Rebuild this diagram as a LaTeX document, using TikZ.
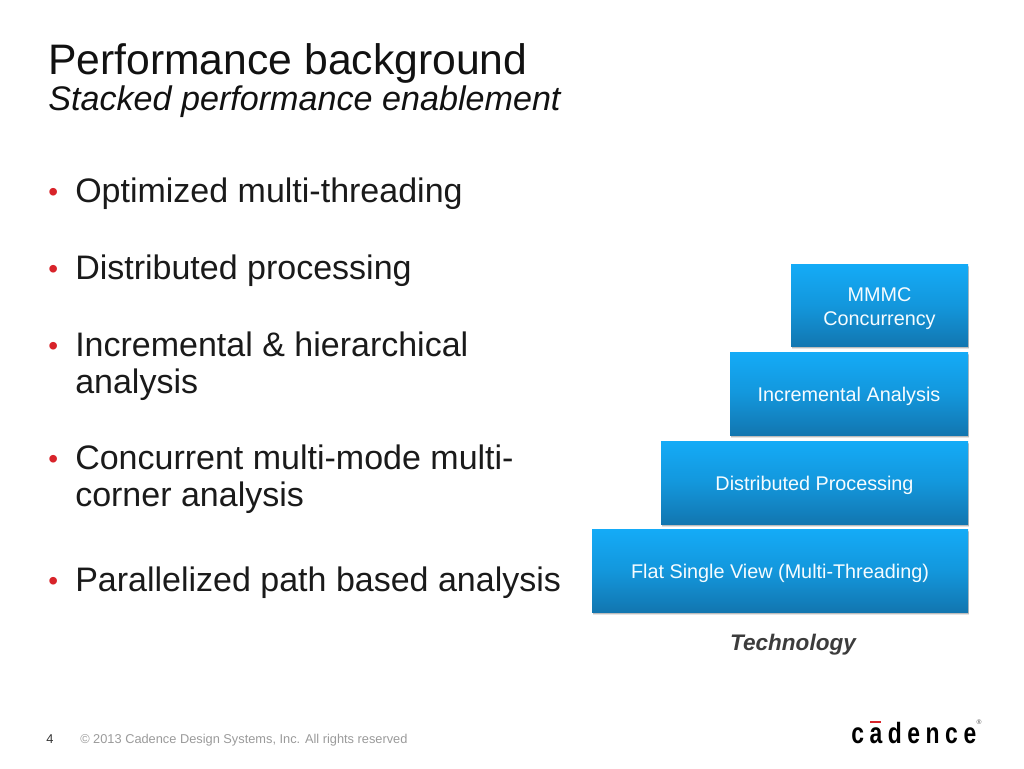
\documentclass[tikz,border=0pt]{standalone}
\usepackage{fontspec}
\setmainfont{Liberation Sans}
\newfontfamily\logofont[LetterSpace=19,FakeStretch=0.78]{Liberation Sans}
\usetikzlibrary{shadows}
\definecolor{titlecol}{HTML}{111111}
\definecolor{bodycol}{HTML}{1A1A1A}
\definecolor{bulletred}{HTML}{D8232A}
\definecolor{boxtop}{HTML}{14ABF7}
\definecolor{boxbot}{HTML}{1276B0}
\definecolor{footgray}{HTML}{9A9A9A}
\tikzset{
  x=0.75pt,y=-0.75pt,
  softshadow/.style={
    general shadow={shadow xshift=0.3pt,shadow yshift=-0.7pt,opacity=.22,fill=black},
    general shadow={shadow xshift=0.6pt,shadow yshift=-1.4pt,opacity=.18,fill=black},
    general shadow={shadow xshift=0.9pt,shadow yshift=-2.2pt,opacity=.10,fill=black}},
  stackbox/.style={softshadow,anchor=north east,inner sep=0pt,outer sep=0pt,top color=boxtop,bottom color=boxbot,
    middle color=boxtop!62!boxbot,text=white!96!boxtop,align=center,text height=15.7pt,text depth=3pt,
    font=\fontsize{14.85}{18}\selectfont},
  bulletmark/.style={anchor=base west,inner sep=0pt,text=bulletred,font=\fontsize{21}{21}\selectfont},
  bullettext/.style={anchor=base west,inner sep=0pt,text=bodycol,align=left,font=\fontsize{25.5}{28}\selectfont},
  titletext/.style={anchor=base west,inner sep=0pt,text=titlecol},
  foot/.style={anchor=base west,inner sep=0pt,text=footgray,font=\fontsize{9.6}{11}\selectfont},
}
\begin{document}
\begin{tikzpicture}
\useasboundingbox (0,0) rectangle (1024,768);
\node[titletext,font=\fontsize{32}{36}\selectfont] (title) at (48,74) {Performance background};
\node[titletext,font=\itshape\fontsize{25.6}{28}\selectfont] (subtitle) at (48,110.5) {Stacked performance enablement};

\foreach \n/\y in {a/201.5,b/278.5,c/355.5,d/468.5,e/590.5}{
  \node[bulletmark] (b\n) at (48,\y) {•};
}
\node[bullettext] (t1) at (75,202) {Optimized multi-threading};
\node[bullettext] (t2) at (75,279) {Distributed processing};
\node[bullettext] (t3) at (75,356) {Incremental \& hierarchical};
\node[bullettext] (t3b) at (75,393) {analysis};
\node[bullettext] (t4) at (75,469) {Concurrent multi-mode multi-};
\node[bullettext] (t4b) at (75,506) {corner analysis};
\node[bullettext] (t5) at (75,591) {Parallelized path based analysis};

\node[stackbox,text height=33.5pt,minimum width=132.75pt,minimum height=61.9pt] (mmmc) at (968,264) {MMMC\\Concurrency};
\node[stackbox,minimum width=178.5pt,minimum height=62.25pt] (inc) at (968,352) {Incremental Analysis};
\node[stackbox,minimum width=230.25pt,minimum height=62.25pt] (dist) at (968,441) {Distributed Processing};
\node[stackbox,minimum width=282pt,minimum height=62.25pt] (flat) at (968,529) {Flat Single View (Multi-Threading)};

\node[anchor=base,inner sep=0pt,text=bodycol!85!white,font=\bfseries\itshape\fontsize{16.9}{18}\selectfont] (tech) at (793,650) {Technology};

\node[foot,text=black!80] (num) at (46,743) {4};
\node[foot] (copy) at (80,743) {© 2013 Cadence Design Systems, Inc. All rights reserved};

\node[anchor=base west,inner sep=0pt,text=black,font=\logofont\bfseries\fontsize{22}{24}\selectfont] (logo) at (851,743.5) {cadence};
\fill[bulletred] (870,720.5) rectangle (881,722.5);
\node[anchor=center,inner sep=0pt,text=black!70,font=\fontsize{5}{5}\selectfont] (reg) at (979,722) {®};
\end{tikzpicture}
\end{document}
